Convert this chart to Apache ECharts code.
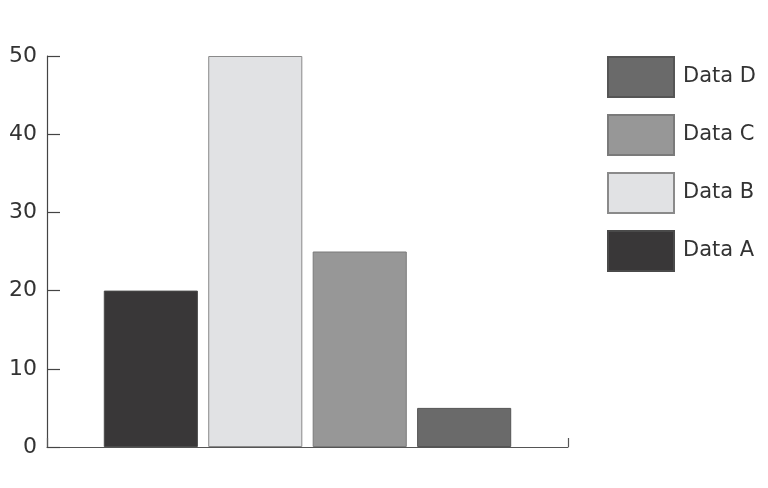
<!DOCTYPE html>
<html><head><meta charset="utf-8">
<script src="https://cdn.jsdelivr.net/npm/echarts@6/dist/echarts.min.js"></script>
<style>html,body{margin:0;padding:0;background:#fff}#c{width:768px;height:488px}</style>
</head><body><div id="c"></div>
<script>
const categories = [''];
const seriesNames = ['Data A', 'Data B', 'Data C', 'Data D'];
const valuesA = [20];
const valuesB = [50];
const valuesC = [25];
const valuesD = [5];
const legendOrder = ['Data D', 'Data C', 'Data B', 'Data A'];

const fills = ['#393738', '#e1e2e4', '#979797', '#6a6a6a'];
const borders = ['#4a4a4a', '#8a8a8a', '#7a7a7a', '#555555'];
const allValues = [valuesA, valuesB, valuesC, valuesD];

const chart = echarts.init(document.getElementById('c'));
chart.setOption({
  animation: false,
  textStyle: { fontFamily: 'DejaVu Sans' },
  grid: { left: 47, right: 200, top: 56, bottom: 41 },
  legend: {
    data: legendOrder,
    orient: 'vertical',
    left: 607, top: 56, padding: 0,
    itemWidth: 66, itemHeight: 40, itemGap: 16,
    icon: 'rect',
    textStyle: { fontSize: 21, color: '#333', fontFamily: 'DejaVu Sans', padding: [0, 0, 0, 4] }
  },
  xAxis: {
    type: 'category', data: categories,
    axisLine: { lineStyle: { color: '#555', width: 1.2 } },
    axisTick: { show: true, inside: true, length: 9, lineStyle: { color: '#555', width: 1.2 } },
    axisLabel: { show: false }
  },
  yAxis: {
    type: 'value', min: 0, max: 50, interval: 10,
    axisLine: { show: true, lineStyle: { color: '#444', width: 1.2 } },
    axisTick: { show: true, inside: true, length: 13, lineStyle: { color: '#444', width: 1.2 } },
    splitLine: { show: false },
    axisLabel: { fontSize: 22, color: '#333', margin: 10, fontFamily: 'DejaVu Sans' }
  },
  series: seriesNames.map((n, i) => ({
    name: n, type: 'bar', data: allValues[i],
    barGap: '11%', barCategoryGap: '21.8%',
    itemStyle: { color: fills[i], borderColor: borders[i], borderWidth: 1 }
  }))
});
</script></body></html>
